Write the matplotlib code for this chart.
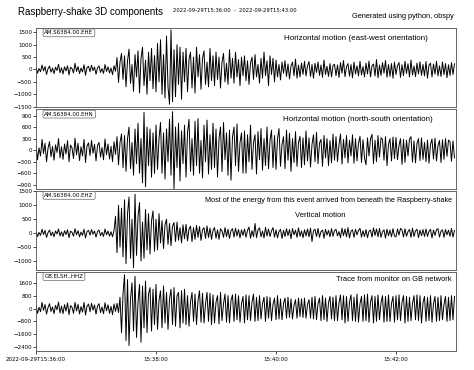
import numpy as np
import matplotlib
matplotlib.use("Agg")
import matplotlib.pyplot as plt

# amplitudes (counts), one value every 1.5 s from 15:36:00
ehe = [80, -150, 40, -90, 180, -60, 120, -200, 30, 140, -110, 60, -170, 90, -40, 210, -130, 70, -180, 110,
       -60, 150, -220, 90, 40, -140, 250, -80, 120, -170, 60, -100, 190, -230, 80, 130, -90, 170, -50, 100,
       -190, 70, 140, -120, 40, -160, 200, -80, 110, -140, 60, -210, 150, -70, 480, -520, 300, 650, -400, 550,
       -700, 350, 820, -560, 200, -880, 600, -300, 750, -950, 450, 900, -650, 380, -1000, 700, -450, 850, -780, 560,
       -900, 1050, -500, 1200, -1000, 600, -1150, 1350, -700, -1400, 1600, -1300, 800, -1100, 1000, -600, 900, -1200, 700, -500,
       850, -900, 400, 700, -750, 500, -950, 900, -300, 600, -800, 450, 750, -600, 300, -700, 850, -450, 550, -650,
       700, -400, 500, -750, 300, 650, -500, 250, -600, 800, -350, 450, -550, 700, -300, 400, -650, 500, -250, 550,
       -450, 350, -600, 250, 500, -400, 600, -300, 200, -550, 450, -350, 700, -250, 350, -650, 550, -200, 450, -500,
       380, -300, 200, -420, 300, -150, 350, -280, 220, -380, 150, 300, -250, 420, -350, 180, -300, 260, -200, 330,
       -260, 150, 320, -280, 200, -350, 250, -120, 300, -240, 180, -320, 380, -200, 130, -280, 240, -300, 160, 210,
       -250, 180, -320, 280, -150, 360, -290, 110, 240, -270, 200, -340, 300, -180, 150, -260, 330, -220, 120, -300,
       260, -180, 340, -300, 150, 220, -260, 400, -330, 180, -240, 280, -150, 360, -310, 200, -280, 240, -350, 300,
       -200, 150, 280, -320, 190, -250, 330, -160, 230, -300, 380, -220, 140, -290, 260, -180, 310, -240, 200, -260,
       320, -350, 180, 250, -300, 220, -190, 330, -260, 150, -280, 300, -210, 240, -330, 190, -240, 280, -200, 230]

ehn = [120, -250, 60, -150, 280, -90, 180, -300, 50, 220, -170, 100, -260, 140, -60, 300, -200, 90, -240, 160,
       -100, 250, -300, 130, 60, -220, 310, -120, 180, -270, 90, -150, 280, -320, 110, 190, -140, 250, -80, 150,
       -280, 120, 200, -180, 70, -250, 290, -120, 160, -230, 100, -300, 220, -110, 350, -380, 200, 420, -450, 380,
       -550, 300, 600, -480, 200, -650, 550, -350, 700, -600, 300, -850, 980, -950, 600, -400, 550, -700, 450, -600,
       650, -500, 300, 720, -600, 450, -750, 550, -300, 800, -650, 1000, -1000, 600, -450, 700, -800, 500, -350, 650,
       -700, 450, 800, -550, 300, -650, 750, -400, 820, -600, 250, -720, 650, -300, 780, -620, 400, -500, 700, -450,
       550, -700, 300, 600, -560, 720, -250, 450, -650, 520, -780, 350, 600, -400, 680, -550, 200, 450, -600, 500,
       -600, 400, -300, 650, -500, 200, 400, -620, 480, -250, 560, -520, 300, -400, 600, -480, 250, 520, -450, 380,
       -500, 300, 560, -420, 150, 350, -480, 520, -260, 440, -550, 300, -320, 480, -420, 200, 360, -450, 320, -380,
       500, -280, 320, -440, 150, 400, -300, 460, -350, 180, 280, -420, 380, -200, 300, -400, 250, -330, 420, -260,
       350, -300, 150, 420, -360, 280, -200, 380, -330, 260, -150, 400, -340, 300, -280, 180, 360, -320, 270, -200,
       -380, 320, -150, 290, 410, -350, 260, -300, 380, -180, 320, 280, -260, 350, -400, 150, 300, -280, 340, -220,
       330, -250, 120, 300, -370, 280, -320, 260, -150, 290, 350, -310, 240, -330, 180, 300, -270, 320, -240, 200,
       -300, 260, -340, 150, 290, -230, 310, -280, 120, 250, -320, 270, -240, 300, -160, 260, 220, -290, 240, -200]

ehz = [60, -120, 30, -80, 140, -50, 100, -150, 20, 110, -90, 40, -130, 80, -30, 150, -100, 50, -120, 90,
       -50, 120, -160, 70, 30, -110, 160, -60, 90, -130, 40, -80, 140, -170, 60, 100, -70, 130, -40, 80,
       -140, 60, 110, -90, 30, -120, 150, -60, 80, -110, 50, -130, 100, 600, -700, 1000, -500, 900, -850, 1200,
       -1100, 700, 1300, -900, 500, -1250, 1400, -800, 600, 1100, -1000, 400, -900, 850, -600, 700, -750, 450, 800, -650,
       500, -600, 700, -350, 450, -550, 300, 500, -400, 350, -450, 250, 380, -300, 400, -250, 200, -350, 300, -200,
       320, -280, 150, 250, -300, 200, -220, 280, -150, 240, -260, 120, 200, -190, 260, -150, 180, -220, 100, 200,
       -180, 120, -220, 160, 80, -150, 200, -120, 140, -190, 90, 160, -140, 180, -100, 130, -170, 120, -80, 150,
       -150, 100, 220, -180, 90, -130, 350, -160, 120, 190, -130, 70, -170, 210, -100, 150, -120, 80, 200, -140,
       120, -170, 60, 140, -190, 100, -120, 160, -90, 130, -200, 170, -60, 110, -150, 190, -110, 80, -160, 120,
       -100, 150, -130, 180, -300, 90, 140, -120, 170, -150, 60, 110, -180, 140, -70, 100, -130, 160, -110, 90,
       140, -100, 60, -160, 180, -90, 150, -130, 200, -170, 70, 120, -150, 140, -60, 100, 170, -140, 90, -120,
       130, -160, 70, 110, -140, 190, -80, 150, -130, 170, -150, 50, 120, -180, 140, -90, 110, -130, 160, -100,
       -130, 150, -70, 170, 120, -140, 160, -110, 60, 130, -150, 180, -120, 80, 140, -160, 110, -90, 130, -120,
       150, -120, 60, 140, -170, 110, -80, 130, 160, -140, 70, 120, -150, 130, -60, 110, -110, 170, -140, 100]

hhz = [150, -300, 80, -200, 380, -120, 250, -350, 60, 300, -180, 100, -320, 200, -80, 400, -280, 150, -320, 240,
       -160, 350, -380, 180, 80, -300, 380, -150, 260, -340, 120, -220, 380, -400, 140, 280, -200, 320, -100, 220,
       -350, 160, 300, -250, 90, -320, 360, -140, 230, -300, 130, -380, 280, -180, 320, -250, 700, -1500, 900, 2100,
       -2000, 1800, -2300, 600, 1600, -1400, 2000, -1800, 400, 1500, -2100, 1400, -1200, 1700, -1500, 900, 1300, -1400, 1200, -1000,
       1500, -1300, 500, 1100, -1200, 1400, -900, 1000, -1300, 600, 1200, -1000, 1300, -1100, 800, 1000, -1200, 1100, -900, 1200,
       -1000, 800, -1100, 400, 1000, -800, 900, -1000, 500, 1100, -850, 950, -900, 300, 1000, -800, 950, -1000, 850, -900,
       400, 800, -950, 1000, -750, 300, 900, -850, 800, -900, 500, 850, -800, 900, -700, 800, -850, 300, 750, -900,
       850, -700, 800, -750, 400, 900, -800, 700, -750, 800, -650, 300, 700, -800, 750, -600, 700, -750, 250, 650,
       -700, 800, -650, 600, -700, 300, 650, -600, 700, -550, 600, -650, 200, 550, -600, 650, -500, 600, -550, 650,
       -600, 250, 550, -600, 700, -650, 750, -700, 300, 650, -750, 800, -700, 650, -800, 350, 750, -650, 700, -750,
       800, -750, 350, 850, -700, 800, -900, 750, -800, 400, 850, -750, 700, -800, 900, -850, 300, 750, -800, 850,
       -750, 900, -850, 400, 800, -900, 750, -800, 850, -700, 350, 800, -850, 750, -800, 850, -800, 300, 750, -850,
       800, -700, 850, -750, 400, 800, -900, 750, -800, 700, -750, 300, 800, -700, 850, -750, 800, -900, 350, 750,
       -800, 700, -750, 800, -850, 300, 750, -800, 700, -750, 800, -700, 250, 750, -800, 700, -750, 800, -700, 750]

traces = [ehe, ehn, ehz, hhz]
stations = ["AM.S6384.00.EHE", "AM.S6384.00.EHN", "AM.S6384.00.EHZ", "GB.ELSH..HHZ"]
ylims = [(-1530, 1670), (-1000, 1060), (-1320, 1530), (-2650, 2280)]
yticks = [np.arange(-1500, 1501, 500), np.arange(-900, 901, 300),
          np.arange(-1000, 1501, 500), np.arange(-2400, 1601, 800)]
xtick_pos = [0, 120, 240, 360]
xtick_lab = ["2022-09-29T15:36:00", "15:38:00", "15:40:00", "15:42:00"]

sans = ["Liberation Sans", "DejaVu Sans"]

fig = plt.figure(figsize=(4.74, 3.70), dpi=100)
gs = fig.add_gridspec(4, 1, left=0.076, right=0.962, top=0.924, bottom=0.051, hspace=0.025)
axes = [fig.add_subplot(gs[i]) for i in range(4)]

for i, ax in enumerate(axes):
    y = np.array(traces[i])
    t = np.arange(len(y)) * 1.5
    ax.plot(t, y, color="black", lw=0.7)
    ax.set_xlim(0, 420)
    ax.set_ylim(*ylims[i])
    ax.set_yticks(yticks[i])
    ax.tick_params(axis="y", labelsize=4, length=2, width=0.5, pad=1)
    ax.tick_params(axis="x", labelsize=4, length=2, width=0.5, pad=2)
    for s in ax.spines.values():
        s.set_linewidth(0.6)
        s.set_color("0.3")
    ax.text(0.02, 0.94, stations[i], transform=ax.transAxes, fontsize=4,
            va="center", ha="left",
            bbox=dict(boxstyle="round,pad=0.25", fc="white", ec="0.4", lw=0.5))
    if i < 3:
        ax.set_xticks([])
    else:
        ax.set_xticks(xtick_pos)
        ax.set_xticklabels(xtick_lab)

axes[0].text(0.762, 0.87, "Horizontal motion (east-west orientation)", transform=axes[0].transAxes,
             ha="center", va="center", fontsize=5.8, family=sans)
axes[1].text(0.767, 0.87, "Horizontal motion (north-south orientation)", transform=axes[1].transAxes,
             ha="center", va="center", fontsize=5.8, family=sans)
axes[2].text(0.99, 0.875, "Most of the energy from this event arrived from beneath the Raspberry-shake",
             transform=axes[2].transAxes, ha="right", va="center", fontsize=5.2, family=sans)
axes[2].text(0.676, 0.69, "Vertical motion", transform=axes[2].transAxes,
             ha="center", va="center", fontsize=5.5, family=sans)
axes[3].text(0.99, 0.9, "Trace from monitor on GB network", transform=axes[3].transAxes,
             ha="right", va="center", fontsize=5.4, family=sans)

fig.text(18 / 474, 1 - 12 / 370, "Raspberry-shake 3D components", fontsize=7, family=sans,
         ha="left", va="center")
fig.text(173 / 474, 1 - 10 / 370, "2022-09-29T15:36:00  -  2022-09-29T15:43:00", fontsize=3.8,
         ha="left", va="center")
fig.text(454 / 474, 1 - 17 / 370, "Generated using python, obspy", fontsize=5.3, family=sans,
         ha="right", va="center")

fig.savefig("out.png", dpi=100)
